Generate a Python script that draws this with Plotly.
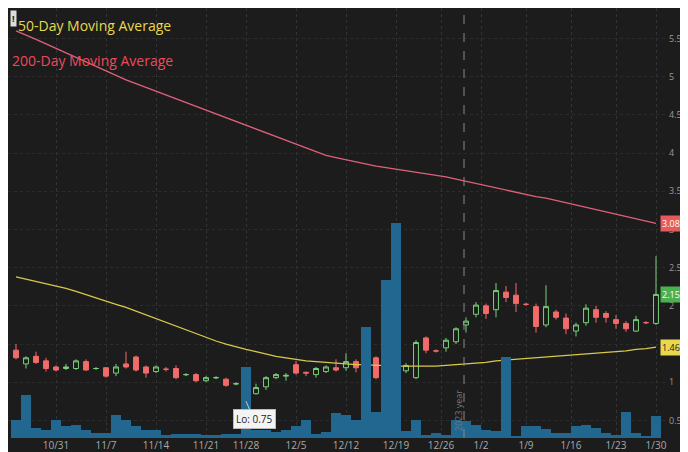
import plotly.graph_objects as go

opens  = [1.42,1.24,1.34,1.28,1.20,1.18,1.18,1.27,1.18,1.19, 1.12,1.24,1.33,1.20,1.14,1.17,1.18,1.10,1.10,1.02, 1.06,1.04,0.98,1.00,0.85,0.94,1.06,1.08,1.23,1.13, 1.10,1.14,1.19,1.19,1.27,1.14,1.32,1.06,1.15,1.15, 1.06,1.58,1.41,1.45,1.53,1.75,1.89,2.00,1.95,2.18, 2.14,2.02,1.99,1.75,1.92,1.84,1.67,1.78,1.95,1.90, 1.82,1.77,1.67,1.78,1.77]
highs  = [1.50,1.34,1.40,1.32,1.22,1.24,1.30,1.30,1.20,1.20, 1.24,1.40,1.35,1.22,1.22,1.20,1.22,1.12,1.12,1.08, 1.08,1.06,1.00,1.04,0.98,1.08,1.12,1.12,1.28,1.14, 1.20,1.22,1.30,1.38,1.30,1.24,1.34,1.28,1.22,1.25, 1.55,1.60,1.43,1.58,1.72,1.85,2.05,2.03,2.30,2.26, 2.30,2.04,2.03,2.27,1.95,1.90,1.78,2.02,2.00,1.93, 1.88,1.80,1.87,1.80,2.65]
lows   = [1.30,1.18,1.24,1.14,1.14,1.16,1.16,1.15,1.16,1.06, 1.08,1.18,1.14,1.06,1.12,1.14,1.04,1.08,1.00,1.00, 1.04,0.94,0.96,0.75,0.84,0.90,1.04,1.02,1.10,1.08, 1.06,1.12,1.14,1.15,1.13,1.12,1.04,0.93,1.00,1.12, 1.04,1.38,1.39,1.40,1.50,1.65,1.85,1.83,1.85,2.05, 1.92,2.00,1.65,1.72,1.82,1.63,1.60,1.74,1.78,1.78, 1.70,1.66,1.66,1.76,1.75]
closes = [1.32,1.32,1.26,1.18,1.16,1.20,1.28,1.16,1.18,1.08, 1.20,1.20,1.16,1.12,1.20,1.17,1.06,1.10,1.02,1.06, 1.06,0.96,0.98,0.82,0.93,1.06,1.10,1.09,1.12,1.12, 1.18,1.20,1.16,1.27,1.19,1.20,1.06,1.19,1.20,1.22, 1.52,1.42,1.41,1.55,1.70,1.80,2.01,1.90,2.20,2.11, 2.03,2.02,1.73,1.99,1.85,1.70,1.75,1.97,1.85,1.85, 1.77,1.70,1.82,1.78,2.15]
volume = [1.8,4.4,1.0,0.8,1.8,1.2,1.3,0.8,0.5,0.5, 2.3,1.8,1.2,0.8,0.8,0.3,0.4,0.4,0.4,0.3, 0.3,0.4,0.4,7.2,0.8,0.8,0.6,0.8,1.2,1.8, 0.4,0.6,2.5,2.3,1.8,11.2,2.6,16.0,21.8,0.7, 1.8,0.3,0.5,0.3,1.8,1.7,1.3,0.8,0.7,8.2, 0.2,1.2,1.2,0.9,0.5,0.5,1.2,1.3,1.0,0.5, 0.3,2.6,0.5,0.2,2.2]
ma50 = [2.38,2.35,2.32,2.29,2.26,2.23,2.19,2.15,2.11,2.07, 2.02,1.98,1.93,1.88,1.83,1.78,1.73,1.68,1.63,1.58, 1.54,1.50,1.46,1.43,1.40,1.37,1.34,1.32,1.30,1.28, 1.27,1.26,1.25,1.24,1.23,1.23,1.22,1.22,1.21,1.21, 1.21,1.21,1.21,1.22,1.23,1.24,1.25,1.26,1.28,1.29, 1.30,1.31,1.32,1.33,1.34,1.35,1.36,1.37,1.38,1.39, 1.40,1.41,1.43,1.44,1.46]
ma200 = [5.60,5.55,5.49,5.43,5.37,5.31,5.25,5.19,5.13,5.07, 5.01,4.96,4.91,4.86,4.81,4.76,4.71,4.66,4.61,4.56, 4.51,4.46,4.41,4.36,4.31,4.26,4.21,4.16,4.11,4.06, 4.01,3.97,3.94,3.91,3.88,3.85,3.83,3.81,3.79,3.77, 3.75,3.73,3.71,3.69,3.66,3.63,3.60,3.57,3.54,3.51, 3.49,3.46,3.43,3.41,3.38,3.35,3.32,3.29,3.26,3.23, 3.20,3.17,3.14,3.11,3.08]
tick_pos = [4,9,14,19,23,28,33,38,42.5,46.5,51,55.5,60,64]
tick_labels = ["10/31","11/7","11/14","11/21","11/28","12/5","12/12","12/19","12/26","1/2","1/9","1/16","1/23","1/30"]
price_ticks = [0.5,1,1.5,2,2.5,3,3.5,4,4.5,5,5.5]

x = list(range(len(closes)))
BG = "#1c1c1c"
fig = go.Figure()
fig.add_trace(go.Bar(x=x, y=volume, width=1, marker=dict(color="#22678f", line=dict(width=0)),
                     yaxis="y2", hoverinfo="skip"))
fig.add_trace(go.Scatter(x=x, y=ma200, mode="lines", line=dict(color="#e0607a", width=1.3)))
fig.add_trace(go.Scatter(x=x, y=ma50, mode="lines", line=dict(color="#d8c84a", width=1.3)))
fig.add_trace(go.Candlestick(x=x, open=opens, high=highs, low=lows, close=closes,
    increasing=dict(line=dict(color="#7bd07b", width=1), fillcolor=BG),
    decreasing=dict(line=dict(color="#f26b6b", width=1), fillcolor="#f26b6b"),
    whiskerwidth=0))

fig.add_shape(type="line", x0=44.8, x1=44.8, y0=0, y1=1, yref="paper",
              line=dict(color="#888", width=1, dash="dash"))
fig.add_annotation(x=44.2, y=0.62, text="2023 year", textangle=-90, showarrow=False,
                   font=dict(color="#777", size=9))
fig.add_annotation(xref="paper", yref="paper", x=0.0, y=0.985, xanchor="left", text="50-Day Moving Average",
                   showarrow=False, font=dict(color="#e8d94c", size=14, family="Open Sans"), xshift=8)
fig.add_annotation(xref="paper", yref="paper", x=0.0, y=0.905, xanchor="left", text="200-Day Moving Average",
                   showarrow=False, font=dict(color="#ec4a5c", size=14, family="Open Sans"), xshift=2)
fig.add_annotation(xref="paper", yref="paper", x=0.0, y=1.0, yanchor="top", xanchor="left", text="<b>!</b>",
                   showarrow=False, font=dict(color="#222", size=9), bgcolor="#ddd", borderpad=1, xshift=2, yshift=-2)
for val, col, fc in [(ma200[-1], "#e85a5a", "#fff"), (closes[-1], "#4caf50", "#fff"), (ma50[-1], "#e8d94c", "#222")]:
    fig.add_annotation(xref="paper", x=1.0, y=val, xanchor="left", text=f"{val:.2f}", showarrow=False,
                       bgcolor=col, font=dict(color=fc, size=9), borderpad=1, xshift=-8)
fig.add_annotation(x=23, y=0.75, text="Lo: 0.75", showarrow=True, ax=8, ay=18, arrowcolor="#ccc",
                   arrowwidth=1, arrowhead=0, bgcolor="#f4f4f4", font=dict(color="#222", size=10),
                   bordercolor="#bbb", borderpad=2)

fig.update_layout(width=688, height=452, paper_bgcolor=BG, plot_bgcolor=BG, showlegend=False,
    margin=dict(l=0, r=28, t=0, b=22), bargap=0,
    xaxis=dict(range=[-0.8, 65.2], tickvals=tick_pos, ticktext=tick_labels, rangeslider=dict(visible=False),
               showgrid=True, gridcolor="#333", griddash="dot", zeroline=False,
               tickfont=dict(color="#aaa", size=10), ticks=""),
    yaxis=dict(range=[0.27, 5.9], side="right", tickvals=price_ticks, ticktext=[str(v) for v in price_ticks],
               showgrid=True, gridcolor="#2c2c2c", griddash="dot", zeroline=False,
               tickfont=dict(color="#999", size=9)),
    yaxis2=dict(range=[0, 43.5], overlaying="y", visible=False))
fig.write_html("out.html")
